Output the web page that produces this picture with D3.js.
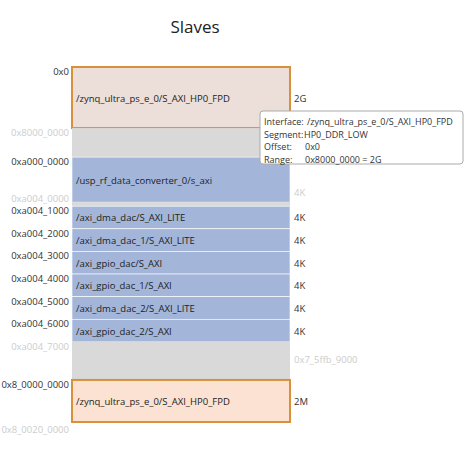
<!DOCTYPE html>
<html><head><meta charset="utf-8">
<script src="https://cdn.jsdelivr.net/npm/d3@7"></script>
<style>body{margin:0;background:#fff;font-family:"Open Sans",sans-serif}</style>
</head><body><svg id="c" width="474" height="450"></svg>
<script>
const offsets = ["0x0","0x8000_0000","0xa000_0000","0xa004_0000","0xa004_1000","0xa004_2000","0xa004_3000","0xa004_4000","0xa004_5000","0xa004_6000","0xa004_7000","0x8_0000_0000"];
const names = ["/zynq_ultra_ps_e_0/S_AXI_HP0_FPD","","/usp_rf_data_converter_0/s_axi","","/axi_dma_dac/S_AXI_LITE","/axi_dma_dac_1/S_AXI_LITE","/axi_gpio_dac/S_AXI","/axi_gpio_dac_1/S_AXI","/axi_dma_dac_2/S_AXI_LITE","/axi_gpio_dac_2/S_AXI","","/zynq_ultra_ps_e_0/S_AXI_HP0_FPD"];
const sizes = ["2G","","","4K","4K","4K","4K","4K","4K","4K","0x7_5ffb_9000","2M"];
const kinds = ["hp","gap","blue","gap","blue","blue","blue","blue","blue","blue","gap","hp2"];
const rowUnits = [61,29,45,4,22.6,22.6,22.6,22.6,22.6,22.6,38,42];
const endLabel = "0x8_0020_0000";
const tipLines = [["Interface:","/zynq_ultra_ps_e_0/S_AXI_HP0_FPD"],["Segment:","HP0_DDR_LOW"],["Offset:","0x0"],["Range:","0x8000_0000 = 2G"]];

const svg = d3.select("#c");
svg.append("text").attr("x",195).attr("y",33).attr("text-anchor","middle").attr("font-size",17).attr("fill","#222").text("Slaves");
const cum=[0]; rowUnits.forEach(u=>cum.push(cum[cum.length-1]+u));
const y = d3.scaleLinear().domain([0,cum[cum.length-1]]).range([67,422]);
const x0=72,x1=290;
const fill={hp:"#ecdfd9",gap:"#d9d9d9",blue:"#a3b6d9",hp2:"#fbe2d2"};
const g=svg.selectAll("g.r").data(kinds).enter().append("g");
g.append("rect").attr("x",x0).attr("width",x1-x0).attr("y",(d,i)=>y(cum[i])).attr("height",(d,i)=>y(cum[i+1])-y(cum[i]))
 .attr("fill",d=>fill[d]).attr("stroke",d=>d.startsWith("hp")?"#d8913a":(d==="blue"?"#fff":"none")).attr("stroke-width",d=>d.startsWith("hp")?2:0.6);
g.append("text").attr("x",x0+4).attr("y",(d,i)=>(y(cum[i])+y(cum[i+1]))/2+4).attr("font-size",9.5).attr("fill","#222").text((d,i)=>names[i]);
g.append("text").attr("x",69).attr("y",(d,i)=>y(cum[i])+(i===3?0:8)).attr("text-anchor","end").attr("font-size",9.5)
 .attr("fill",(d,i)=>kinds[i]==="gap"?"#ccc":"#333").text((d,i)=>offsets[i]);
g.append("text").attr("x",294).attr("y",(d,i)=>i===3?y(cum[i])-6:(y(cum[i])+y(cum[i+1]))/2+(i===10?2:4)).attr("font-size",9.5)
 .attr("fill",(d,i)=>kinds[i]==="gap"?"#ccc":"#333").text((d,i)=>sizes[i]);
svg.append("text").attr("x",69).attr("y",y(cum[cum.length-1])+11).attr("text-anchor","end").attr("font-size",9.5).attr("fill","#ccc").text(endLabel);
const tip=svg.append("g").attr("transform","translate(260,111)");
tip.append("rect").attr("width",203).attr("height",53).attr("rx",3).attr("fill","#fff").attr("stroke","#aaa");
tipLines.forEach((l,i)=>{
 tip.append("text").attr("x",4).attr("y",14+i*12.5).attr("font-size",9).attr("fill","#333").text(l[0]);
 tip.append("text").attr("x",l[0]==="Interface:"?47:(l[0]==="Segment:"?44:45)).attr("y",14+i*12.5).attr("font-size",9).attr("fill","#333").text(l[1]);
});
</script></body></html>
